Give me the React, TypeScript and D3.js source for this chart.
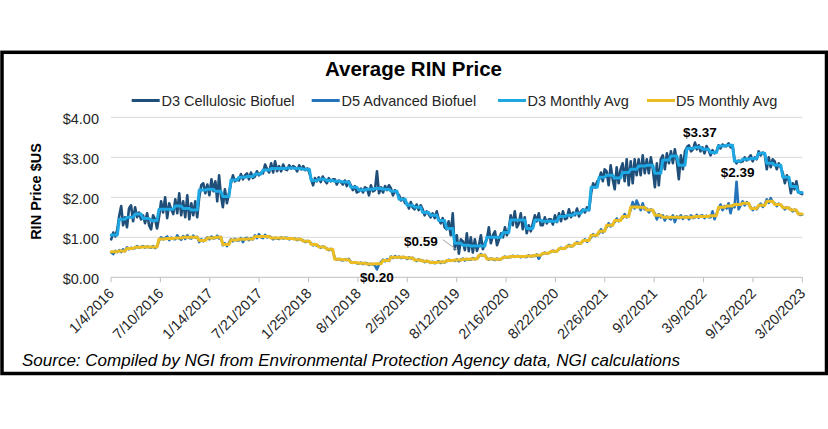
import React from 'react';
import * as d3 from 'd3';

const TITLE = 'Average RIN Price';
const SERIES_NAMES = ['D3 Cellulosic Biofuel', 'D5 Advanced Biofuel', 'D3 Monthly Avg', 'D5 Monthly Avg'];
const Y_AXIS_TITLE = 'RIN Price $US';
const SOURCE = 'Source: Compiled by NGI from Environmental Protection Agency data, NGI calculations';
const AXIS_START = '1/4/2016';
const AXIS_END = '3/20/2023';
const FIRST_YEAR = 2016;
const X_TICK_LABELS = ['1/4/2016', '7/10/2016', '1/14/2017', '7/21/2017', '1/25/2018', '8/1/2018', '2/5/2019', '8/12/2019', '2/16/2020', '8/22/2020', '2/26/2021', '9/2/2021', '3/9/2022', '9/13/2022', '3/20/2023'];
const Y_TICKS = [0, 1, 2, 3, 4];

// Monthly averages, Jan 2016 .. Mar 2023
const D3_MONTHLY = [
  1.06, 1.45, 1.50, 1.58, 1.47, 1.42, 1.70, 1.70, 1.78, 1.72, 1.68, 2.18,
  2.20, 2.15, 2.02, 2.43, 2.50, 2.52, 2.58, 2.68, 2.72, 2.72, 2.73, 2.72,
  2.70, 2.42, 2.45, 2.42, 2.40, 2.38, 2.25, 2.18, 2.20, 2.22, 2.20, 2.15,
  1.95, 1.80, 1.75, 1.62, 1.55, 1.42, 1.22, 0.85, 0.80, 0.78, 0.78, 1.00,
  1.00, 1.12, 1.43, 1.43, 1.22, 1.43, 1.40, 1.40, 1.52, 1.55, 1.60, 1.68,
  2.25, 2.50, 2.55, 2.48, 2.62, 2.70, 2.78, 2.80, 2.60, 2.93, 3.03, 2.80,
  3.22, 3.25, 3.20, 3.12, 3.28, 3.30, 2.90, 2.95, 2.97, 3.10, 2.85, 2.80,
  2.50, 2.27, 2.12,
];
const D5_MONTHLY = [
  0.64, 0.66, 0.72, 0.75, 0.76, 0.76, 0.96, 0.97, 0.98, 1.00, 1.00, 0.92,
  0.98, 1.00, 0.82, 0.93, 0.95, 0.96, 1.02, 1.02, 0.98, 0.98, 0.97, 0.95,
  0.90, 0.82, 0.76, 0.70, 0.45, 0.44, 0.37, 0.35, 0.33, 0.34, 0.42, 0.50,
  0.50, 0.48, 0.43, 0.40, 0.37, 0.38, 0.42, 0.43, 0.45, 0.46, 0.55, 0.46,
  0.45, 0.50, 0.52, 0.52, 0.53, 0.55, 0.60, 0.65, 0.72, 0.78, 0.85, 0.92,
  1.05, 1.15, 1.30, 1.42, 1.52, 1.76, 1.75, 1.68, 1.55, 1.50, 1.50, 1.50,
  1.50, 1.52, 1.52, 1.54, 1.75, 1.78, 1.82, 1.85, 1.72, 1.80, 1.90, 1.82,
  1.74, 1.68, 1.58,
];

// Weekly prices, grouped by month (Jan 2016 .. Mar 2023)
const D3_WEEKLY = [
  [0.95, 1.12, 1.02, 1.20], [1.55, 1.78, 1.30, 1.50], [1.25, 1.72, 1.80, 1.40], [1.75, 1.50, 1.62, 1.45],
  [1.55, 1.35, 1.60, 1.30], [1.20, 1.55, 1.45, 1.22], [1.50, 1.90, 1.62, 2.00], [1.48, 1.85, 1.70, 1.58],
  [1.95, 1.60, 2.10, 1.55], [1.90, 1.50, 2.05, 1.45], [1.85, 1.55, 1.90, 1.50], [2.00, 2.30, 2.35, 2.10],
  [2.32, 2.05, 2.45, 2.15], [2.40, 1.90, 2.55, 2.05], [1.75, 2.20, 1.85, 2.10], [2.35, 2.55, 2.40, 2.45],
  [2.42, 2.58, 2.45, 2.55], [2.60, 2.45, 2.62, 2.48], [2.52, 2.65, 2.55, 2.62], [2.60, 2.82, 2.70, 2.62],
  [2.85, 2.62, 2.90, 2.65], [2.78, 2.65, 2.82, 2.70], [2.68, 2.80, 2.72, 2.78], [2.75, 2.65, 2.80, 2.70],
  [2.78, 2.68, 2.72, 2.62], [2.45, 2.30, 2.48, 2.40], [2.50, 2.38, 2.52, 2.42], [2.35, 2.48, 2.40, 2.45],
  [2.45, 2.32, 2.42, 2.38], [2.32, 2.42, 2.28, 2.40], [2.30, 2.18, 2.28, 2.12], [2.15, 2.22, 2.12, 2.25],
  [2.22, 2.05, 2.30, 2.15], [2.18, 2.65, 2.10, 2.25], [2.12, 2.28, 2.18, 2.30], [2.22, 2.05, 2.18, 2.10],
  [2.05, 1.92, 1.98, 1.85], [1.85, 1.72, 1.88, 1.75], [1.70, 1.82, 1.68, 1.80], [1.70, 1.55, 1.65, 1.58],
  [1.50, 1.60, 1.48, 1.65], [1.45, 1.35, 1.48, 1.25], [1.20, 1.40, 1.05, 1.60], [0.70, 1.05, 0.59, 0.95],
  [0.90, 0.68, 1.10, 0.65], [1.00, 0.62, 0.95, 0.66], [0.80, 1.05, 0.70, 0.85], [0.95, 1.25, 0.85, 1.05],
  [1.15, 0.80, 0.95, 1.10], [1.00, 1.25, 1.05, 1.20], [1.55, 1.30, 1.65, 1.25], [1.35, 1.60, 1.20, 1.50],
  [1.10, 1.30, 1.15, 1.35], [1.55, 1.40, 1.60, 1.30], [1.30, 1.50, 1.35, 1.45], [1.45, 1.32, 1.55, 1.38],
  [1.60, 1.40, 1.65, 1.45], [1.48, 1.70, 1.50, 1.62], [1.55, 1.72, 1.52, 1.65], [1.70, 1.62, 1.75, 1.68],
  [2.10, 2.35, 2.25, 2.40], [2.45, 2.62, 2.40, 2.70], [2.65, 2.30, 2.80, 2.45], [2.20, 2.75, 2.35, 2.70],
  [2.85, 2.40, 2.95, 2.30], [2.90, 2.35, 2.95, 2.55], [2.95, 2.55, 3.05, 2.60], [2.95, 2.60, 3.00, 2.70],
  [2.25, 2.85, 2.30, 2.95], [3.05, 2.70, 3.10, 2.85], [3.15, 2.85, 3.20, 2.90], [2.45, 3.05, 2.70, 3.15],
  [3.25, 3.30, 3.15, 3.20], [3.37, 3.20, 3.30, 3.15], [3.25, 3.10, 3.28, 3.18], [3.05, 3.18, 3.10, 3.15],
  [3.30, 3.22, 3.32, 3.28], [3.28, 3.35, 3.25, 3.30], [2.95, 2.85, 2.92, 2.88], [2.90, 3.00, 2.92, 2.98],
  [3.05, 2.90, 3.00, 2.95], [3.15, 3.05, 3.12, 3.08], [2.70, 3.00, 2.75, 2.95], [2.90, 2.70, 2.85, 2.75],
  [2.60, 2.35, 2.55, 2.40], [2.10, 2.35, 2.20, 2.40], [2.15, 2.10, 2.08],
];
const D5_WEEKLY = [
  [0.62, 0.58, 0.66, 0.63], [0.68, 0.63, 0.70, 0.65], [0.75, 0.70, 0.74, 0.71], [0.73, 0.78, 0.74, 0.76],
  [0.78, 0.74, 0.77, 0.75], [0.74, 0.78, 0.73, 0.77], [0.92, 1.00, 0.95, 0.98], [1.02, 0.93, 0.99, 0.96],
  [0.95, 1.05, 0.97, 0.94], [1.03, 0.96, 1.05, 0.98], [0.97, 1.04, 0.99, 1.01], [0.88, 0.95, 0.90, 0.94],
  [1.00, 0.95, 1.02, 0.97], [0.98, 1.04, 0.97, 1.01], [0.80, 0.85, 0.78, 0.86], [0.95, 0.90, 0.96, 0.92],
  [0.92, 0.98, 0.88, 0.97], [0.99, 0.93, 0.98, 0.95], [1.05, 0.98, 1.08, 1.00], [0.98, 1.06, 1.00, 1.03],
  [1.00, 0.95, 0.99, 0.97], [0.96, 1.00, 0.97, 0.99], [0.99, 0.95, 0.98, 0.96], [0.97, 0.93, 0.96, 0.94],
  [0.92, 0.88, 0.91, 0.89], [0.85, 0.80, 0.83, 0.79], [0.78, 0.74, 0.77, 0.75], [0.72, 0.68, 0.71, 0.67],
  [0.48, 0.44, 0.46, 0.43], [0.42, 0.45, 0.43, 0.46], [0.39, 0.36, 0.38, 0.35], [0.34, 0.37, 0.33, 0.36],
  [0.35, 0.31, 0.34, 0.32], [0.30, 0.20, 0.32, 0.38], [0.44, 0.40, 0.45, 0.41], [0.52, 0.48, 0.53, 0.49],
  [0.52, 0.48, 0.51, 0.49], [0.46, 0.50, 0.47, 0.49], [0.44, 0.41, 0.45, 0.42], [0.42, 0.38, 0.41, 0.39],
  [0.36, 0.39, 0.35, 0.38], [0.40, 0.36, 0.39, 0.37], [0.40, 0.44, 0.41, 0.43], [0.41, 0.45, 0.40, 0.44],
  [0.47, 0.42, 0.46, 0.44], [0.44, 0.48, 0.45, 0.47], [0.52, 0.58, 0.54, 0.56], [0.48, 0.44, 0.47, 0.45],
  [0.43, 0.47, 0.44, 0.46], [0.48, 0.52, 0.49, 0.51], [0.50, 0.54, 0.51, 0.53], [0.53, 0.50, 0.52, 0.51],
  [0.51, 0.55, 0.52, 0.54], [0.53, 0.57, 0.46, 0.56], [0.58, 0.62, 0.59, 0.61], [0.63, 0.67, 0.64, 0.66],
  [0.70, 0.74, 0.71, 0.73], [0.76, 0.81, 0.77, 0.79], [0.83, 0.88, 0.84, 0.86], [0.90, 0.95, 0.89, 0.94],
  [1.00, 1.08, 1.03, 1.07], [1.10, 1.20, 1.12, 1.18], [1.25, 1.35, 1.27, 1.33], [1.38, 1.47, 1.40, 1.45],
  [1.48, 1.58, 1.50, 1.55], [1.70, 1.88, 1.72, 1.92], [1.80, 1.68, 1.85, 1.70], [1.72, 1.62, 1.70, 1.66],
  [1.60, 1.45, 1.58, 1.50], [1.55, 1.42, 1.52, 1.48], [1.45, 1.55, 1.38, 1.52], [1.48, 1.55, 1.46, 1.52],
  [1.52, 1.45, 1.55, 1.48], [1.50, 1.56, 1.49, 1.54], [1.55, 1.48, 1.54, 1.50], [1.50, 1.65, 1.45, 1.58],
  [1.70, 1.82, 1.68, 1.78], [1.72, 1.85, 1.60, 1.80], [1.75, 2.39, 1.70, 1.80], [1.90, 1.80, 1.88, 1.82],
  [1.75, 1.68, 1.74, 1.70], [1.78, 1.84, 1.76, 1.82], [1.95, 1.86, 1.98, 1.88], [1.85, 1.78, 1.84, 1.80],
  [1.76, 1.70, 1.75, 1.72], [1.70, 1.65, 1.69, 1.66], [1.60, 1.56, 1.57],
];

const COLORS = ['#1f4e79', '#2473bb', '#1ea8e3', '#ebbd22'];
const FONT = '"Liberation Sans", Arial, sans-serif';

type P = { t: Date; v: number; m: number };

const parse = d3.timeParse('%m/%d/%Y');

export default function App() {
  const d0 = parse(AXIS_START) as Date;
  const d1 = parse(AXIS_END) as Date;
  const lastEnd = d3.timeDay.offset(d1, 3);

  const x = d3.scaleTime().domain([d0, d1]).range([111, 802.3]);
  const y = d3.scaleLinear().domain([0, 4]).range([277.3, 117.3]);

  const place = (groups: number[][], monthly?: number[]): P[] => {
    const pts: P[] = [];
    groups.forEach((g, m) => {
      const start = new Date(FIRST_YEAR, m, 1);
      let end = new Date(FIRST_YEAR, m + 1, 1);
      if (end > lastEnd) end = lastEnd;
      g.forEach((v, j) => {
        let t = new Date(+start + ((j + 0.5) / g.length) * (+end - +start));
        if (t < d0) t = d0;
        if (t > d1) t = d1;
        pts.push({ t, v: monthly ? monthly[m] : v, m });
      });
    });
    return pts;
  };

  const d3w = place(D3_WEEKLY);
  const d5w = place(D5_WEEKLY);
  const d3m = place(D3_WEEKLY, D3_MONTHLY);
  const d5m = place(D5_WEEKLY, D5_MONTHLY);

  const line = d3.line<P>().x((p) => x(p.t)).y((p) => y(p.v));

  const d3Max = d3.greatest(d3w, (p) => p.v) as P;
  const d3Min = d3.least(d3w, (p) => p.v) as P;
  const d5Max = d3.greatest(d5w, (p) => p.v) as P;
  const d5Min = d3.least(d5w, (p) => p.v) as P;
  const fmt = (v: number) => '$' + v.toFixed(2);

  const ticks = X_TICK_LABELS.map((s) => ({ s, t: parse(s) as Date }));

  const legend = [
    { sx: 131.7, tx: 161.5 },
    { sx: 311.7, tx: 341.5 },
    { sx: 498, tx: 527.5 },
    { sx: 647, tx: 676 },
  ];

  const y0 = y(0);
  const series = [d3w, d5w, d3m, d5m];
  const widths = [2.6, 2.6, 3, 3];

  return (
    <svg width={828} height={429} style={{ position: 'absolute', left: 0, top: 0, background: '#fff' }} fontFamily={FONT}>
      <rect x={0} y={0} width={828} height={429} fill="#fff" />
      <rect x={2} y={52.3} width={824.5} height={321.2} fill="#fff" stroke="#000" strokeWidth={3.5} />
      <text x={413.5} y={75.5} textAnchor="middle" fontSize={20.5} fontWeight="bold" fill="#000">{TITLE}</text>
      {SERIES_NAMES.map((n, i) => (
        <g key={n}>
          <line x1={legend[i].sx} x2={legend[i].sx + 28} y1={100.5} y2={100.5} stroke={COLORS[i]} strokeWidth={3} />
          <text x={legend[i].tx} y={105.5} fontSize={14.5} fill="#262626">{n}</text>
        </g>
      ))}
      {Y_TICKS.map((v) => (
        <g key={v}>
          {v > 0 && <line x1={111} x2={802.3} y1={y(v)} y2={y(v)} stroke="#d9d9d9" strokeWidth={1} />}
          <text x={99} y={y(v) + 1.5} dy="0.35em" textAnchor="end" fontSize={14.5} fill="#262626">{fmt(v)}</text>
        </g>
      ))}
      <text transform={`translate(35.5,${191.5}) rotate(-90)`} textAnchor="middle" dy="0.35em" fontSize={14.5} fontWeight="bold" fill="#000">{Y_AXIS_TITLE}</text>
      <line x1={111} x2={802.3} y1={y0} y2={y0} stroke="#bfbfbf" strokeWidth={1} />
      {ticks.map((tk) => (
        <g key={tk.s}>
          <line x1={x(tk.t)} x2={x(tk.t)} y1={y0} y2={y0 + 5} stroke="#bfbfbf" strokeWidth={1} />
          <text transform={`translate(${x(tk.t) + 4},${y0 + 17}) rotate(-45)`} textAnchor="end" fontSize={14.5} fill="#262626">{tk.s}</text>
        </g>
      ))}
      {series.map((s, i) => (
        <path key={i} d={line(s) || ''} fill="none" stroke={COLORS[i]} strokeWidth={widths[i]} strokeLinejoin="round" strokeLinecap="round" />
      ))}
      <text x={x(d3Max.t) + 5} y={y(d3Max.v) - 6} textAnchor="middle" fontSize={13.5} fontWeight="bold" fill="#000">{fmt(d3Max.v)}</text>
      <text x={x(d5Max.t) + 1} y={y(d5Max.v) - 5} textAnchor="middle" fontSize={13.5} fontWeight="bold" fill="#000">{fmt(d5Max.v)}</text>
      <text x={x(d5Min.t)} y={y(d5Min.v) + 12.5} textAnchor="middle" fontSize={13.5} fontWeight="bold" fill="#000">{fmt(d5Min.v)}</text>
      <line x1={x(d3Min.t) - 16} y1={y(d3Min.v) - 14} x2={x(d3Min.t) - 1} y2={y(d3Min.v) - 3} stroke="#a6a6a6" strokeWidth={1} />
      <text x={x(d3Min.t) - 38} y={y(d3Min.v) - 8} textAnchor="middle" fontSize={13.5} fontWeight="bold" fill="#000">{fmt(d3Min.v)}</text>
      <text x={22} y={366} fontSize={17} fontStyle="italic" fill="#000">{SOURCE}</text>
    </svg>
  );
}
